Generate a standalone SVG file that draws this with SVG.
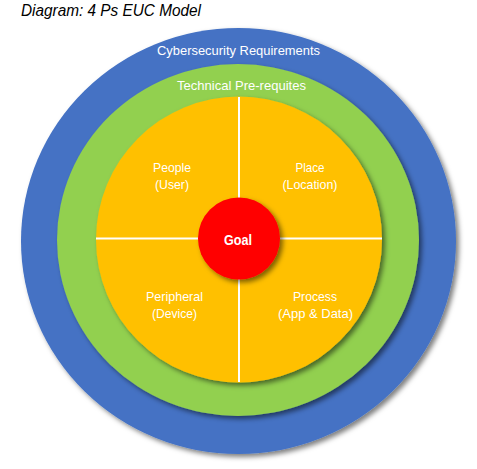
<svg xmlns="http://www.w3.org/2000/svg" width="477" height="469" viewBox="0 0 477 469">
  <style>
    .lbl { font-family: "Liberation Sans", Arial, sans-serif; fill: #ffffff; text-anchor: middle; }
    .ring { font-size: 13.5px; }
    .quad { font-size: 13.5px; }
    .goal { font-size: 14px; font-weight: bold; }
    .title { font-family: "Liberation Sans", Arial, sans-serif; font-style: italic; font-size: 16px; fill: #000000; }
    .div { stroke: #ffffff; stroke-width: 2; }
  </style>
  <defs>
    <filter id="shadow" x="-10%" y="-10%" width="125%" height="125%">
      <feDropShadow dx="3" dy="3" stdDeviation="2.5" flood-color="#000000" flood-opacity="0.5"/>
    </filter>
  </defs>
  <rect width="477" height="469" fill="#ffffff"/>
  <text class="title" x="21" y="15.5" textLength="180" lengthAdjust="spacingAndGlyphs">Diagram: 4 Ps EUC Model</text>

  <g id="cybersecurity">
    <ellipse cx="238.5" cy="241" rx="217.5" ry="213" fill="#4472C4" filter="url(#shadow)"/>
    <text class="lbl ring" x="238.5" y="54.5" textLength="163" lengthAdjust="spacingAndGlyphs">Cybersecurity Requirements</text>
  </g>
  <g id="technical">
    <ellipse cx="238" cy="240" rx="181" ry="176" fill="#92D050" filter="url(#shadow)"/>
    <text class="lbl ring" x="241.5" y="90" textLength="129" lengthAdjust="spacingAndGlyphs">Technical Pre-requites</text>
  </g>
  <g id="quadrants">
    <circle cx="239" cy="239.5" r="143" fill="#FFC000" filter="url(#shadow)"/>
  </g>
  <g id="connectors">
    <line class="div" x1="96" y1="238.5" x2="382" y2="238.5"/>
    <line class="div" x1="239" y1="97" x2="239" y2="382"/>
  </g>
  <g id="people">
    <text class="lbl quad" x="172" y="172" textLength="38" lengthAdjust="spacingAndGlyphs">People</text>
    <text class="lbl quad" x="172" y="189" textLength="34" lengthAdjust="spacingAndGlyphs">(User)</text>
  </g>
  <g id="place">
    <text class="lbl quad" x="310" y="172" textLength="29" lengthAdjust="spacingAndGlyphs">Place</text>
    <text class="lbl quad" x="310" y="189" textLength="55" lengthAdjust="spacingAndGlyphs">(Location)</text>
  </g>
  <g id="peripheral">
    <text class="lbl quad" x="174.5" y="300.5" textLength="57" lengthAdjust="spacingAndGlyphs">Peripheral</text>
    <text class="lbl quad" x="174.5" y="317.5" textLength="45" lengthAdjust="spacingAndGlyphs">(Device)</text>
  </g>
  <g id="process">
    <text class="lbl quad" x="315" y="300.5" textLength="44" lengthAdjust="spacingAndGlyphs">Process</text>
    <text class="lbl quad" x="315.5" y="317.5" textLength="75" lengthAdjust="spacingAndGlyphs">(App &amp; Data)</text>
  </g>
  <g id="goal">
    <circle cx="239" cy="238.5" r="41" fill="#FF0000" filter="url(#shadow)"/>
    <text class="lbl goal" x="238" y="245" textLength="28" lengthAdjust="spacingAndGlyphs">Goal</text>
  </g>
</svg>
